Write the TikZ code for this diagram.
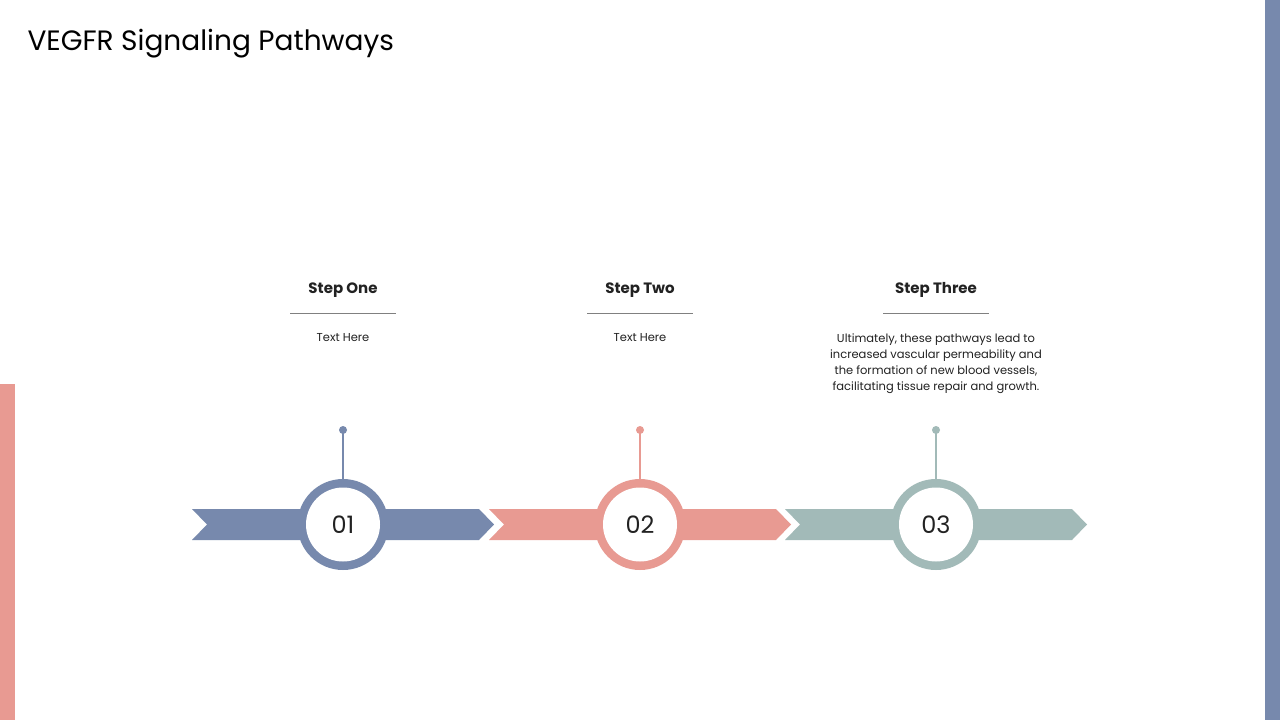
\documentclass[tikz,border=0pt]{standalone}
\usepackage{fontspec}
\setmainfont{Poppins}
\definecolor{cblue}{HTML}{7789AD}
\definecolor{cpink}{HTML}{E89A92}
\definecolor{cteal}{HTML}{A2BAB8}
\definecolor{ctext}{HTML}{222222}
\begin{document}
\begin{tikzpicture}[x=1pt,y=-1pt,
  steptitle/.style={font=\fontsize{15}{18}\selectfont\bfseries,text=ctext,anchor=center},
  smalltext/.style={font=\fontsize{11.5}{16}\selectfont,text=ctext,align=center,anchor=north},
  numtext/.style={font=\fontsize{24}{28}\selectfont,text=ctext}]
\useasboundingbox (0,0) rectangle (1280,720);
\fill[white] (0,0) rectangle (1280,720);
\fill[cblue] (1265,0) rectangle (1280,720);
\fill[cpink] (0,384) rectangle (15,720);
\node[anchor=west,font=\fontsize{28}{32}\selectfont,text=black] (title) at (24,44) {VEGFR Signaling Pathways};
\foreach \i/\x/\c/\t in {1/343/cblue/One,2/640/cpink/Two,3/936/cteal/Three}{
  \fill[\c] (\x-151,509) -- (\x+136,509) -- (\x+151,524.5) -- (\x+136,540) -- (\x-151,540) -- (\x-136,524.5) -- cycle;
  \fill[\c] (\x,524.5) circle (45.5);
  \fill[white] (\x,524.5) circle (37);
  \node[numtext] (n\i) at (\x,524.5) {0\i};
  \fill[\c] (\x,430) circle (4);
  \coordinate (d\i) at (\x,430);
  \coordinate (c\i) at (\x,479);
  \draw[\c,line width=1.2] (d\i) -- (c\i);
  \node[steptitle] (s\i) at (\x,290) {Step \t};
  \draw[gray,line width=0.8] (\x-53,313) -- (\x+53,313);
}
\node[smalltext] (t1) at (343,330) {Text Here};
\node[smalltext] (t2) at (640,330) {Text Here};
\node[smalltext] (t3) at (936,330) {Ultimately, these pathways lead to\\increased vascular permeability and\\the formation of new blood vessels,\\facilitating tissue repair and growth.};
\end{tikzpicture}
\end{document}
